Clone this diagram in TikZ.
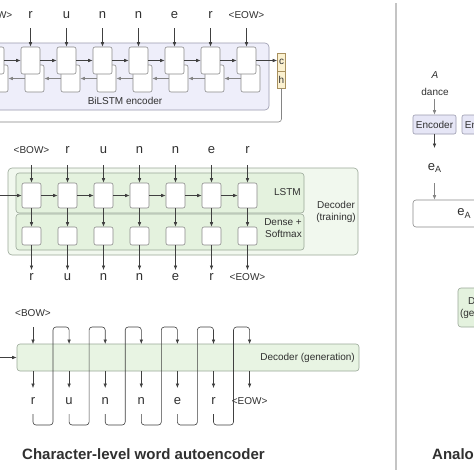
\documentclass[tikz,border=0pt]{standalone}
\usepackage{fontspec}
\setmainfont{Liberation Sans}
\usetikzlibrary{arrows.meta}
\definecolor{txt}{HTML}{303030}
\definecolor{linec}{HTML}{404040}
\definecolor{lblinec}{HTML}{858585}
\definecolor{boxd}{HTML}{8A8A8A}
\definecolor{lavf}{HTML}{EEEEFA}
\definecolor{lavd}{HTML}{9A9AAE}
\definecolor{encf}{HTML}{E6E6F6}
\definecolor{grnf}{HTML}{F1F8EE}
\definecolor{grni}{HTML}{E4F2DE}
\definecolor{genf}{HTML}{E8F4E3}
\definecolor{grnd}{HTML}{9AA898}
\definecolor{yelf}{HTML}{FBF1D0}
\definecolor{yeld}{HTML}{A8905E}
\definecolor{sepc}{HTML}{C4C4C4}
\newcommand\sm{\fontsize{10}{12}\selectfont}
\newcommand\myeA{e\raisebox{-2.5pt}{\fontsize{9}{9}\selectfont A}}
\begin{document}
\begin{tikzpicture}[x=1pt,y=-1pt,
  big/.style={font=\fontsize{13}{15}\selectfont, text=txt, inner sep=0pt},
  small/.style={font=\sm, text=txt, inner sep=0pt},
  cell/.style={draw=boxd, fill=white, rounded corners=2pt, line width=0.6pt, minimum width=19pt, inner sep=0pt},
  arr/.style={draw=linec, line width=0.6pt, -{Latex[length=4.5pt,width=3.6pt]}},
  barr/.style={draw=lblinec, line width=0.6pt, -{Latex[length=4.5pt,width=3.6pt]}},
  cont/.style={rounded corners=4pt, line width=0.6pt},
  ttl/.style={font=\fontsize{15}{18}\selectfont\bfseries, text=txt, inner sep=0pt},
]
\useasboundingbox (0,0) rectangle (474,474);
\fill[white] (0,0) rectangle (474,474);
\clip (0,0) rectangle (474,474);

% ---------- BiLSTM encoder ----------
\draw[cont, fill=lavf, draw=lavd] (-30,43) rectangle (269,110);
\node[small] (bil) at (125,101) {BiLSTM encoder};
\foreach \t [count=\k from 0] in {{\sm <BOW>},r,u,n,n,e,r,{\sm <EOW>}} {
  \pgfmathsetmacro\xx{-5.5+36*\k}
  \node[big,anchor=base] (tl\k) at (\xx,18) {\t};
  \node[cell,minimum height=27pt] (tb\k) at (\xx+4,78.5) {};
  \node[cell,minimum height=27pt] (tf\k) at (\xx,60.5) {};
  \coordinate (ti\k) at (\xx,28);
  \draw[arr] (ti\k) -- (tf\k.north);
}
\foreach \k in {0,...,6} {
  \pgfmathtruncatemacro\j{\k+1}
  \draw[arr] (tf\k.east) -- (tf\j.west);
  \draw[barr] (tb\j.west) -- (tb\k.east);
}
\node[small, draw=yeld, fill=yelf, minimum width=8pt, minimum height=18pt, line width=0.6pt] (cc) at (281.5,62) {c};
\node[small, draw=yeld, fill=yelf, minimum width=8pt, minimum height=17pt, line width=0.6pt] (hh) at (281.5,79.5) {h};
\draw[arr] (tf7.east) -- (tf7.east -| cc.west);
\coordinate (hc) at (281.5,122);
\coordinate (hl) at (-5,122);
\draw[draw=lblinec, line width=0.6pt, rounded corners=3pt] (hh.south) -- (hc) -- (hl);

% ---------- Decoder (training) ----------
\draw[cont, fill=grnf, draw=grnd] (8,168) rectangle (358,255);
\draw[cont, fill=grni, draw=grnd, rounded corners=3pt] (16,173) rectangle (304,213);
\draw[cont, fill=grni, draw=grnd, rounded corners=3pt] (16,214) rectangle (304,250);
\node[small, anchor=east] (lstm) at (301,192) {LSTM};
\node[small, anchor=east, align=right] (dense) at (302,228) {Dense +\\Softmax};
\node[small, align=center] (dect) at (336,211.5) {Decoder\\(training)};
\foreach \t [count=\k from 0] in {{\sm <BOW>},r,u,n,n,e,r} {
  \pgfmathsetmacro\xx{31.5+36*\k}
  \node[big,anchor=base] (ml\k) at (\xx,153) {\t};
  \coordinate (mi\k) at (\xx,165);
  \node[cell,minimum height=25pt] (mb\k) at (\xx,195.5) {};
  \node[cell,minimum height=18pt] (md\k) at (\xx,236) {};
  \draw[arr] (mi\k) -- (mb\k.north);
  \draw[arr] (mb\k.south) -- (md\k.north);
  \coordinate (mo\k) at (\xx,270);
  \draw[arr] (md\k.south) -- (mo\k);
}
\foreach \t [count=\k from 0] in {r,u,n,n,e,r,{\sm <EOW>}} {
  \pgfmathsetmacro\xx{31.5+36*\k}
  \node[big,anchor=base] (mol\k) at (\xx,280) {\t};
}
\foreach \k in {0,...,5} {
  \pgfmathtruncatemacro\j{\k+1}
  \draw[arr] (mb\k.east) -- (mb\j.west);
}
\coordinate (min) at (0,195.5);
\draw[arr] (min) -- (mb0.west);

% ---------- Decoder (generation) ----------
\node[draw=grnd, fill=genf, rounded corners=3pt, minimum width=342pt, minimum height=27pt, line width=0.6pt, inner sep=0pt] (gen) at (188,357.5) {};
\node[small, anchor=east] (gent) at (355,357.5) {Decoder (generation)};
\coordinate (gin) at (0,357.5);
\draw[arr] (gin) -- (gen.west);
\node[small, anchor=base] (gbow) at (33,316) {<BOW>};
\coordinate (gb0) at (33,327);
\draw[arr] (gb0) -- (33,344);
\foreach \t [count=\k from 0] in {r,u,n,n,e,r,{\sm <EOW>}} {
  \pgfmathsetmacro\xx{33+36.1*\k}
  \coordinate (go\k) at (\xx,371);
  \draw[arr] (go\k) -- (\xx,388);
  \node[big,anchor=base] (gl\k) at (\xx,404) {\t};
}
\foreach \k in {0,...,5} {
  \pgfmathsetmacro\xa{33+36.1*\k}
  \pgfmathsetmacro\xb{\xa+36.1}
  \pgfmathsetmacro\xc{\xa+20}
  \draw[arr, rounded corners=3pt] (\xa,414) -- (\xa,425) -- (\xc,425) -- (\xc,327) -- (\xb,327) -- (\xb,344);
}
\node[ttl, anchor=base west] (title1) at (22,459) {Character-level word autoencoder};

% ---------- separator ----------
\draw[sepc, line width=1.8pt] (396,3) -- (396,470);

% ---------- Analogy panel ----------
\node[small, anchor=base, font=\sm\itshape] (ra) at (435,78) {A};
\node[small, anchor=base] (rd) at (435,95) {dance};
\node[small, draw=lavd, fill=encf, rounded corners=2pt, minimum width=43pt, minimum height=19pt, line width=0.6pt] (enc1) at (434.5,124.5) {Encoder};
\node[small, draw=lavd, fill=encf, rounded corners=2pt, minimum width=43pt, minimum height=19pt, line width=0.6pt] (enc2) at (483.5,124.5) {Encoder};
\coordinate (rdi) at (434.5,99);
\draw[barr] (rdi) -- (enc1.north);
\coordinate (enco) at (434.5,148);
\draw[arr] (enc1.south) -- (enco);
\node[big] (ea) at (434.5,168) {\myeA};
\node[draw=boxd, fill=white, rounded corners=3pt, minimum width=108pt, minimum height=27pt, line width=0.6pt, inner sep=0pt] (eab) at (467,213.5) {};
\node[big] (eabt) at (464,213.5) {\myeA};
\coordinate (eai) at (434.5,183);
\draw[barr] (eai) -- (eai |- eab.north);
\node[small, draw=grnd, fill=grni, rounded corners=3pt, minimum width=58pt, minimum height=39pt, line width=0.6pt, align=center] (rg) at (487,307.5) {Decoder\\(generation)};
\node[ttl, anchor=base west] (title2) at (432,459) {Analogy};
\end{tikzpicture}
\end{document}
